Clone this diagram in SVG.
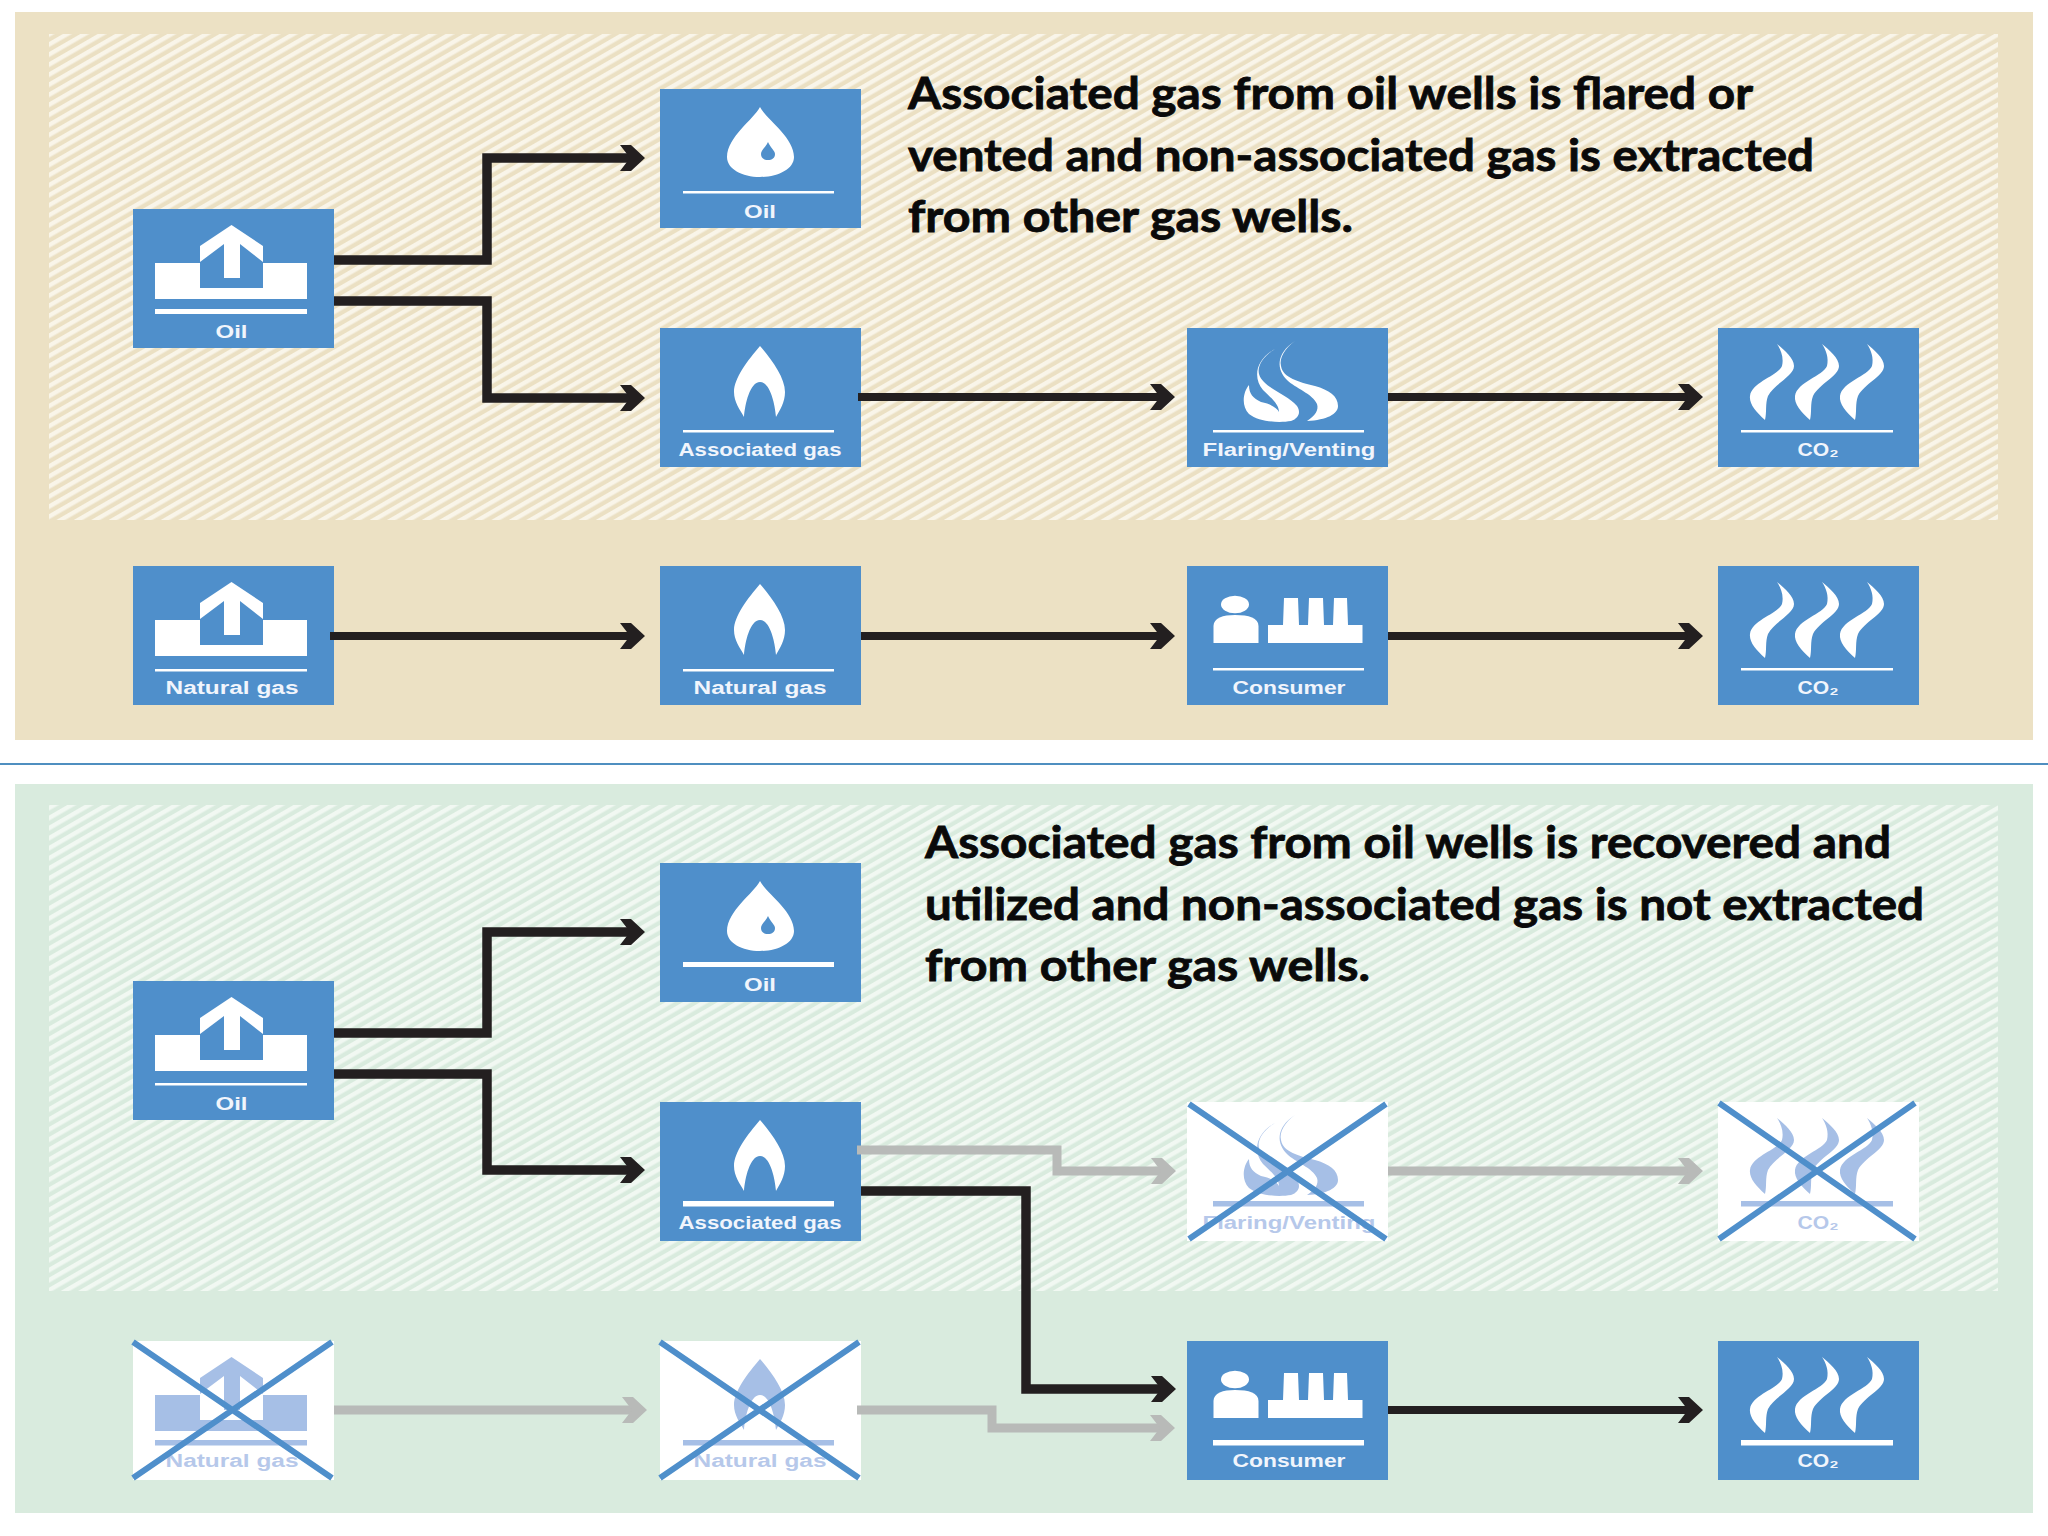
<svg xmlns="http://www.w3.org/2000/svg" width="2048" height="1536" viewBox="0 0 2048 1536">
<style>
.on{--fg:#fff;--bg:#4f8fcb}
.off{--fg:#a6bfe6;--bg:#fff}
.box{fill:var(--bg)}
.rule{fill:var(--fg)}
.lab{font-family:"Liberation Sans",Arial,sans-serif;font-weight:700;font-size:18px;text-anchor:middle}
.on .lab{fill:#f1f5fc}
.off .lab{fill:#b6c8ea}
.head{font-family:Lato,"Open Sans",sans-serif;font-weight:700;font-size:44px;fill:#0a0a0a;stroke:#0a0a0a;stroke-width:.8}
.k,.g{fill:none;stroke-linejoin:miter}
.k{stroke:#231f20;stroke-width:9.5}
.k.s{stroke-width:8}
.g{stroke:#b8bab8;stroke-width:9}
.x{stroke:#4f8fcb;stroke-width:6;fill:none}
</style>
<defs>
<pattern id="hTan" width="8.7" height="8.7" patternUnits="userSpaceOnUse" patternTransform="rotate(-30)"><rect width="8.7" height="8.7" fill="#ebe0c3"/><rect width="8.7" height="4.4" fill="#f9f5e9"/></pattern>
<pattern id="hGreen" width="8.7" height="8.7" patternUnits="userSpaceOnUse" patternTransform="rotate(-30)"><rect width="8.7" height="8.7" fill="#d9ebde"/><rect width="8.7" height="4.4" fill="#f1f8f2"/></pattern>
<marker id="ak" viewBox="-27 -13 28 26" markerWidth="28" markerHeight="26" markerUnits="userSpaceOnUse" refX="-6" refY="0" orient="auto"><path d="M-25,-13 L-14,-13 L0,0 L-14,13 L-25,13 L-15,0Z" fill="#231f20"/></marker>
<marker id="ag" viewBox="-27 -13 28 26" markerWidth="28" markerHeight="26" markerUnits="userSpaceOnUse" refX="-6" refY="0" orient="auto"><path d="M-25,-13 L-14,-13 L0,0 L-14,13 L-25,13 L-15,0Z" fill="#b8bab8"/></marker>
<g id="iSource"><path d="M22,54 H67 V79 H130 V54 H174 V90 H22Z" fill="var(--fg)"/><path d="M98.5,16 L130,37 V53 L107,35 V69 H91 V35 L67,53 V37Z" fill="var(--fg)"/></g>
<g id="iDrop"><path d="M100,18 C106,30 134,48 134,68 C134,80 118,88 100,88 C82,88 67,80 67,68 C67,48 94,30 100,18Z" fill="var(--fg)"/><path d="M108,53 C110,58 115,62 115,65 C115,69 112,71 108,71 C104,71 101,69 101,65 C101,61 106,58 108,53Z" fill="var(--bg)"/></g>
<path id="iFlame" d="M100,18 C112,32 125,50 125,64 C125,74 120,82 116,89 C115,76 110,54 100,54 C90,54 85,76 84,89 C80,82 74,74 74,64 C74,50 88,32 100,18Z" fill="var(--fg)"/>
<g id="iFlare" fill="var(--fg)"><path d="M108,13 C98,20 92,30 94,38 C96,50 112,54 128,58 C142,62 151,68 151,78 C151,86 140,92 120,93 C128,88 132,82 130,76 C126,66 108,60 100,52 C90,42 88,26 108,13Z"/><path d="M88,21 C76,28 70,38 72,46 C76,60 100,66 110,78 C114,84 112,90 104,93 C92,95 72,94 62,86 C54,78 56,64 62,57 C62,66 66,70 74,74 C84,76 90,80 92,84 C92,76 84,70 76,62 C66,50 68,32 88,21Z"/></g>
<path id="iWave" d="M59,16 C66,22 76,30 76,38 C76,48 56,56 50,68 C47,76 49,84 47,92 C38,84 31,76 32,68 C34,54 60,48 64,38 C66,30 63,22 59,16Z" fill="var(--fg)"/>
<g id="iCo2"><use href="#iWave"/><use href="#iWave" x="45"/><use href="#iWave" x="90"/></g>
<g id="iConsumer" fill="var(--fg)"><ellipse cx="48" cy="38.5" rx="14" ry="8.7"/><path d="M26.5,77 V60 C26.5,52 36,49 48,49 C62,49 71.5,52 71.5,60 V77Z"/><path d="M81,77 V59 H96 L97,32 H111 L112,59 H121 L122,32 H136 L137,59 H146 L147,32 H160 L161,59 H175.5 V77Z"/></g>
</defs>

<g id="panels">
<rect x="15" y="12" width="2018" height="728" fill="#ece1c4"/>
<rect x="49" y="34" width="1949" height="486" fill="url(#hTan)"/>
<rect x="0" y="763" width="2048" height="2" fill="#4f8fc0"/>
<rect x="15" y="784" width="2018" height="729" fill="#d9ebde"/>
<rect x="49" y="805" width="1949" height="486" fill="url(#hGreen)"/>
</g>

<g id="text-top">
<text class="head" x="908" y="109" textLength="845" lengthAdjust="spacingAndGlyphs">Associated gas from oil wells is flared or</text>
<text class="head" x="908" y="170.5" textLength="906" lengthAdjust="spacingAndGlyphs">vented and non-associated gas is extracted</text>
<text class="head" x="908" y="232" textLength="445" lengthAdjust="spacingAndGlyphs">from other gas wells.</text>
</g>
<g id="text-bottom">
<text class="head" x="925" y="858" textLength="966" lengthAdjust="spacingAndGlyphs">Associated gas from oil wells is recovered and</text>
<text class="head" x="925" y="920" textLength="999" lengthAdjust="spacingAndGlyphs">utilized and non-associated gas is not extracted</text>
<text class="head" x="925" y="981" textLength="445" lengthAdjust="spacingAndGlyphs">from other gas wells.</text>
</g>

<g id="n1" class="on" transform="translate(133,209)"><rect class="box" width="201" height="139"/><use href="#iSource"/><rect class="rule" x="22" y="100" width="152" height="5"/><text class="lab" x="98.5" y="129" textLength="32" lengthAdjust="spacingAndGlyphs">Oil</text></g>
<g id="n2" class="on" transform="translate(660,89)"><rect class="box" width="201" height="139"/><use href="#iDrop"/><rect class="rule" x="23" y="102" width="151" height="2.5"/><text class="lab" x="100" y="129" textLength="32" lengthAdjust="spacingAndGlyphs">Oil</text></g>
<g id="n3" class="on" transform="translate(660,328)"><rect class="box" width="201" height="139"/><use href="#iFlame"/><rect class="rule" x="23" y="102" width="151" height="2.5"/><text class="lab" x="100" y="128" textLength="163" lengthAdjust="spacingAndGlyphs">Associated gas</text></g>
<g id="n4" class="on" transform="translate(1187,328)"><rect class="box" width="201" height="139"/><use href="#iFlare"/><rect class="rule" x="26" y="102" width="151" height="2.5"/><text class="lab" x="102" y="128" textLength="173" lengthAdjust="spacingAndGlyphs">Flaring/Venting</text></g>
<g id="n5" class="on" transform="translate(1718,328)"><rect class="box" width="201" height="139"/><use href="#iCo2"/><rect class="rule" x="23" y="102" width="152" height="2.5"/><text class="lab" x="100" y="128" textLength="41" lengthAdjust="spacingAndGlyphs">CO₂</text></g>
<g id="n6" class="on" transform="translate(133,566)"><rect class="box" width="201" height="139"/><use href="#iSource"/><rect class="rule" x="22" y="103" width="152" height="2.5"/><text class="lab" x="99" y="128" textLength="133" lengthAdjust="spacingAndGlyphs">Natural gas</text></g>
<g id="n7" class="on" transform="translate(660,566)"><rect class="box" width="201" height="139"/><use href="#iFlame"/><rect class="rule" x="23" y="103" width="151" height="2.5"/><text class="lab" x="100" y="128" textLength="133" lengthAdjust="spacingAndGlyphs">Natural gas</text></g>
<g id="n8" class="on" transform="translate(1187,566)"><rect class="box" width="201" height="139"/><use href="#iConsumer"/><rect class="rule" x="26" y="102" width="151" height="2.5"/><text class="lab" x="102" y="128" textLength="113" lengthAdjust="spacingAndGlyphs">Consumer</text></g>
<g id="n9" class="on" transform="translate(1718,566)"><rect class="box" width="201" height="139"/><use href="#iCo2"/><rect class="rule" x="23" y="102" width="152" height="2.5"/><text class="lab" x="100" y="128" textLength="41" lengthAdjust="spacingAndGlyphs">CO₂</text></g>

<g id="n10" class="on" transform="translate(133,981)"><rect class="box" width="201" height="139"/><use href="#iSource"/><rect class="rule" x="22" y="102" width="152" height="2.5"/><text class="lab" x="98.5" y="129" textLength="32" lengthAdjust="spacingAndGlyphs">Oil</text></g>
<g id="n11" class="on" transform="translate(660,863)"><rect class="box" width="201" height="139"/><use href="#iDrop"/><rect class="rule" x="23" y="99" width="151" height="5"/><text class="lab" x="100" y="128" textLength="32" lengthAdjust="spacingAndGlyphs">Oil</text></g>
<g id="n12" class="on" transform="translate(660,1102)"><rect class="box" width="201" height="139"/><use href="#iFlame"/><rect class="rule" x="23" y="99" width="151" height="5.5"/><text class="lab" x="100" y="127" textLength="163" lengthAdjust="spacingAndGlyphs">Associated gas</text></g>
<g id="n13" class="off" transform="translate(1187,1102)"><rect class="box" width="201" height="139"/><use href="#iFlare"/><rect class="rule" x="26" y="99" width="151" height="5.5"/><text class="lab" x="102" y="127" textLength="173" lengthAdjust="spacingAndGlyphs">Flaring/Venting</text><path class="x" d="M2,2 L199,137 M199,2 L2,137"/></g>
<g id="n14" class="off" transform="translate(1718,1102)"><rect class="box" width="201" height="139"/><use href="#iCo2"/><rect class="rule" x="23" y="99" width="152" height="5.5"/><text class="lab" x="100" y="127" textLength="41" lengthAdjust="spacingAndGlyphs">CO₂</text><path class="x" d="M1,1 L197,137 M197,1 L1,137"/></g>
<g id="n15" class="off" transform="translate(133,1341)"><rect class="box" width="201" height="139"/><use href="#iSource"/><rect class="rule" x="22" y="99" width="152" height="5.5"/><text class="lab" x="99" y="126" textLength="133" lengthAdjust="spacingAndGlyphs">Natural gas</text><path class="x" d="M0,1 L199,137 M199,1 L0,137"/></g>
<g id="n16" class="off" transform="translate(660,1341)"><rect class="box" width="201" height="139"/><use href="#iFlame"/><rect class="rule" x="23" y="99" width="151" height="5.5"/><text class="lab" x="100" y="126" textLength="133" lengthAdjust="spacingAndGlyphs">Natural gas</text><path class="x" d="M0,1 L199,137 M199,1 L0,137"/></g>
<g id="n17" class="on" transform="translate(1187,1341)"><rect class="box" width="201" height="139"/><use href="#iConsumer"/><rect class="rule" x="26" y="99" width="151" height="5.5"/><text class="lab" x="102" y="126" textLength="113" lengthAdjust="spacingAndGlyphs">Consumer</text></g>
<g id="n18" class="on" transform="translate(1718,1341)"><rect class="box" width="201" height="139"/><use href="#iCo2"/><rect class="rule" x="23" y="99" width="152" height="5.5"/><text class="lab" x="100" y="126" textLength="41" lengthAdjust="spacingAndGlyphs">CO₂</text></g>

<g id="connectors">
<path class="k" marker-end="url(#ak)" d="M334,260 H487 V158 H639"/>
<path class="k" marker-end="url(#ak)" d="M334,301 H487 V398 H639"/>
<path class="k s" marker-end="url(#ak)" d="M858,397 H1169"/>
<path class="k s" marker-end="url(#ak)" d="M1388,397 H1697"/>
<path class="k s" marker-end="url(#ak)" d="M330,636 H639"/>
<path class="k s" marker-end="url(#ak)" d="M861,636 H1169"/>
<path class="k s" marker-end="url(#ak)" d="M1388,636 H1697"/>
<path class="k" marker-end="url(#ak)" d="M334,1033 H487 V932 H639"/>
<path class="k" marker-end="url(#ak)" d="M334,1074 H487 V1170 H639"/>
<path class="k" marker-end="url(#ak)" d="M861,1191 H1026 V1389 H1170"/>
<path class="k s" marker-end="url(#ak)" d="M1388,1410 H1697"/>
<path class="g" marker-end="url(#ag)" d="M857,1150 H1057 V1171 H1170"/>
<path class="g" marker-end="url(#ag)" d="M1388,1171 H1697"/>
<path class="g" marker-end="url(#ag)" d="M334,1410 H641"/>
<path class="g" marker-end="url(#ag)" d="M857,1410 H992 V1428 H1169"/>
</g>
</svg>
